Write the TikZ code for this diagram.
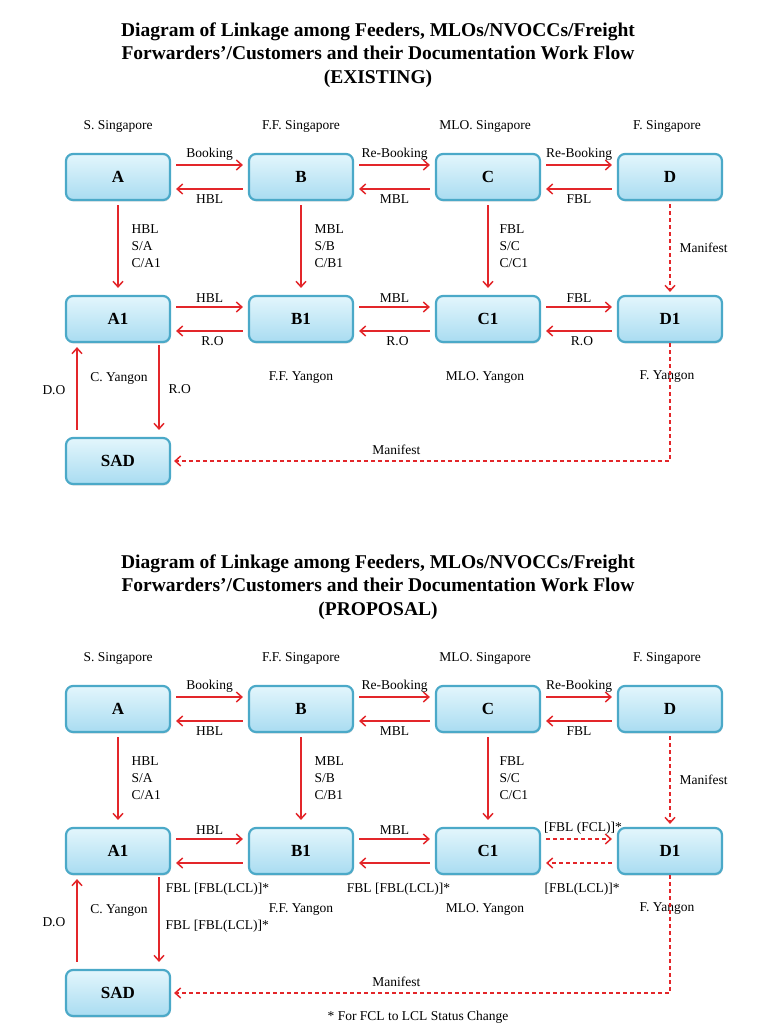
\documentclass[tikz,border=0pt]{standalone}
\usepackage{fontspec}
\setmainfont{Liberation Serif}
\usetikzlibrary{arrows.meta,shadows}
\definecolor{boxline}{HTML}{4BA9C8}
\definecolor{boxtop}{HTML}{E3F6FC}
\definecolor{boxbot}{HTML}{A9DCF1}
\definecolor{arr}{HTML}{E3262A}
\tikzset{
  box/.style={draw=boxline, line width=2.2pt, rounded corners=7pt,
    top color=boxtop, bottom color=boxbot,
    minimum width=104pt, minimum height=46pt,
    font=\fontsize{17}{20}\selectfont\bfseries,
    drop shadow={opacity=0.25, shadow xshift=0.6pt, shadow yshift=-1.6pt}},
  lbl/.style={font=\fontsize{13.5}{17}\selectfont, inner sep=0pt, align=left},
  flow/.style={draw=arr, line width=1.25pt, -{Straight Barb[length=5.5pt,width=10pt,line width=1.5pt]}},
  dflow/.style={flow, dash pattern=on 4pt off 3pt},
  titlestyle/.style={font=\fontsize{19.5}{23.5}\selectfont\bfseries, align=center, inner sep=0pt},
}
\begin{document}
\begin{tikzpicture}[x=1pt,y=-1pt]
\useasboundingbox (0,0) rectangle (768,1024);
\fill[white] (0,0) rectangle (768,1024);

% ================= EXISTING =================
\node[titlestyle] (t1) at (378,55) {Diagram of Linkage among Feeders, MLOs/NVOCCs/Freight\\Forwarders’/Customers and their Documentation Work Flow\\(EXISTING)};

\node[lbl] (ls1) at (118,126) {S. Singapore};
\node[lbl] (lf1) at (301,126) {F.F. Singapore};
\node[lbl] (lm1) at (485,126) {MLO. Singapore};
\node[lbl] (lfe1) at (667,126) {F. Singapore};

\node[box] (a) at (118,177) {A};
\node[box] (b) at (301,177) {B};
\node[box] (c) at (488,177) {C};
\node[box] (d) at (670,177) {D};
\node[box] (a1) at (118,319) {A1};
\node[box] (b1) at (301,319) {B1};
\node[box] (c1) at (488,319) {C1};
\node[box] (d1) at (670,319) {D1};
\node[box] (sad) at (118,461) {SAD};

\node[lbl] (ly1) at (119,378) {C. Yangon};
\node[lbl] (lfy1) at (301,378) {F.F. Yangon};
\node[lbl] (lmy1) at (485,377) {MLO. Yangon};
\node[lbl] (lfey1) at (667,377) {F. Yangon};

% row 1 horizontal
\draw[flow] ([xshift=5pt,yshift=12pt]a.east) -- ([xshift=-5pt,yshift=12pt]b.west) node[lbl,midway,above=4pt] {Booking};
\draw[flow] ([xshift=-5pt,yshift=-12pt]b.west) -- ([xshift=5pt,yshift=-12pt]a.east) node[lbl,midway,below=5pt] {HBL};
\draw[flow] ([xshift=5pt,yshift=12pt]b.east) -- ([xshift=-5pt,yshift=12pt]c.west) node[lbl,midway,above=4pt] {Re-Booking};
\draw[flow] ([xshift=-5pt,yshift=-12pt]c.west) -- ([xshift=5pt,yshift=-12pt]b.east) node[lbl,midway,below=5pt] {MBL};
\draw[flow] ([xshift=5pt,yshift=12pt]c.east) -- ([xshift=-5pt,yshift=12pt]d.west) node[lbl,midway,above=4pt] {Re-Booking};
\draw[flow] ([xshift=-5pt,yshift=-12pt]d.west) -- ([xshift=5pt,yshift=-12pt]c.east) node[lbl,midway,below=5pt] {FBL};

% verticals
\draw[flow] ([yshift=-4pt]a.south) -- ([yshift=7pt]a1.north) node[lbl,midway,anchor=west,xshift=13pt] {HBL\\S/A\\C/A1};
\draw[flow] ([yshift=-4pt]b.south) -- ([yshift=7pt]b1.north) node[lbl,midway,anchor=west,xshift=13pt] {MBL\\S/B\\C/B1};
\draw[flow] ([yshift=-4pt]c.south) -- ([yshift=7pt]c1.north) node[lbl,midway,anchor=west,xshift=11pt] {FBL\\S/C\\C/C1};
\draw[dflow] ([yshift=-3pt]d.south) -- ([yshift=3pt]d1.north) node[lbl,midway,anchor=west,xshift=9pt] {Manifest};

% row 2 horizontal
\draw[flow] ([xshift=5pt,yshift=12pt]a1.east) -- ([xshift=-5pt,yshift=12pt]b1.west) node[lbl,midway,above=4pt] {HBL};
\draw[flow] ([xshift=-5pt,yshift=-12pt]b1.west) -- ([xshift=5pt,yshift=-12pt]a1.east) node[lbl,midway,below=5pt,xshift=3pt] {R.O};
\draw[flow] ([xshift=5pt,yshift=12pt]b1.east) -- ([xshift=-5pt,yshift=12pt]c1.west) node[lbl,midway,above=4pt] {MBL};
\draw[flow] ([xshift=-5pt,yshift=-12pt]c1.west) -- ([xshift=5pt,yshift=-12pt]b1.east) node[lbl,midway,below=5pt,xshift=3pt] {R.O};
\draw[flow] ([xshift=5pt,yshift=12pt]c1.east) -- ([xshift=-5pt,yshift=12pt]d1.west) node[lbl,midway,above=4pt] {FBL};
\draw[flow] ([xshift=-5pt,yshift=-12pt]d1.west) -- ([xshift=5pt,yshift=-12pt]c1.east) node[lbl,midway,below=5pt,xshift=3pt] {R.O};

% A1 <-> SAD
\draw[flow] ([xshift=41pt,yshift=-2pt]a1.south) -- ([xshift=41pt,yshift=7pt]sad.north) node[lbl,midway,anchor=west,xshift=9pt,yshift=-2pt] {R.O};
\draw[flow] ([xshift=-41pt,yshift=7pt]sad.north) -- ([xshift=-41pt,yshift=-4pt]a1.south) node[lbl,midway,anchor=east,xshift=-11pt,yshift=-2pt] {D.O};

% manifest to SAD
\draw[dflow] (d1.south) |- ([xshift=3pt]sad.east) node[lbl,pos=0.776,above=6pt] {Manifest};

% ================= PROPOSAL =================
\node[titlestyle] (t2) at (378,587) {Diagram of Linkage among Feeders, MLOs/NVOCCs/Freight\\Forwarders’/Customers and their Documentation Work Flow\\(PROPOSAL)};

\node[lbl] (ls2) at (118,658) {S. Singapore};
\node[lbl] (lf2) at (301,658) {F.F. Singapore};
\node[lbl] (lm2) at (485,658) {MLO. Singapore};
\node[lbl] (lfe2) at (667,658) {F. Singapore};

\node[box] (pa) at (118,709) {A};
\node[box] (pb) at (301,709) {B};
\node[box] (pc) at (488,709) {C};
\node[box] (pd) at (670,709) {D};
\node[box] (pa1) at (118,851) {A1};
\node[box] (pb1) at (301,851) {B1};
\node[box] (pc1) at (488,851) {C1};
\node[box] (pd1) at (670,851) {D1};
\node[box] (psad) at (118,993) {SAD};

\node[lbl] (ly2) at (119,910) {C. Yangon};
\node[lbl] (lfy2) at (301,910) {F.F. Yangon};
\node[lbl] (lmy2) at (485,909) {MLO. Yangon};
\node[lbl] (lfey2) at (667,909) {F. Yangon};

% row 1 horizontal
\draw[flow] ([xshift=5pt,yshift=12pt]pa.east) -- ([xshift=-5pt,yshift=12pt]pb.west) node[lbl,midway,above=4pt] {Booking};
\draw[flow] ([xshift=-5pt,yshift=-12pt]pb.west) -- ([xshift=5pt,yshift=-12pt]pa.east) node[lbl,midway,below=5pt] {HBL};
\draw[flow] ([xshift=5pt,yshift=12pt]pb.east) -- ([xshift=-5pt,yshift=12pt]pc.west) node[lbl,midway,above=4pt] {Re-Booking};
\draw[flow] ([xshift=-5pt,yshift=-12pt]pc.west) -- ([xshift=5pt,yshift=-12pt]pb.east) node[lbl,midway,below=5pt] {MBL};
\draw[flow] ([xshift=5pt,yshift=12pt]pc.east) -- ([xshift=-5pt,yshift=12pt]pd.west) node[lbl,midway,above=4pt] {Re-Booking};
\draw[flow] ([xshift=-5pt,yshift=-12pt]pd.west) -- ([xshift=5pt,yshift=-12pt]pc.east) node[lbl,midway,below=5pt] {FBL};

% verticals
\draw[flow] ([yshift=-4pt]pa.south) -- ([yshift=7pt]pa1.north) node[lbl,midway,anchor=west,xshift=13pt] {HBL\\S/A\\C/A1};
\draw[flow] ([yshift=-4pt]pb.south) -- ([yshift=7pt]pb1.north) node[lbl,midway,anchor=west,xshift=13pt] {MBL\\S/B\\C/B1};
\draw[flow] ([yshift=-4pt]pc.south) -- ([yshift=7pt]pc1.north) node[lbl,midway,anchor=west,xshift=11pt] {FBL\\S/C\\C/C1};
\draw[dflow] ([yshift=-3pt]pd.south) -- ([yshift=3pt]pd1.north) node[lbl,midway,anchor=west,xshift=9pt] {Manifest};

% row 2 horizontal
\draw[flow] ([xshift=5pt,yshift=12pt]pa1.east) -- ([xshift=-5pt,yshift=12pt]pb1.west) node[lbl,midway,above=4pt] {HBL};
\draw[flow] ([xshift=-5pt,yshift=-12pt]pb1.west) -- ([xshift=5pt,yshift=-12pt]pa1.east) node[lbl,midway,below=19pt,xshift=8pt] {FBL [FBL(LCL)]*};
\draw[flow] ([xshift=5pt,yshift=12pt]pb1.east) -- ([xshift=-5pt,yshift=12pt]pc1.west) node[lbl,midway,above=4pt] {MBL};
\draw[flow] ([xshift=-5pt,yshift=-12pt]pc1.west) -- ([xshift=5pt,yshift=-12pt]pb1.east) node[lbl,midway,below=19pt,xshift=4pt] {FBL [FBL(LCL)]*};
\draw[dflow] ([xshift=5pt,yshift=12pt]pc1.east) -- ([xshift=-5pt,yshift=12pt]pd1.west) node[lbl,midway,above=4pt,xshift=4pt] {[FBL (FCL)]*};
\draw[dflow] ([xshift=-5pt,yshift=-12pt]pd1.west) -- ([xshift=5pt,yshift=-12pt]pc1.east) node[lbl,midway,below=19pt,xshift=3pt] {[FBL(LCL)]*};

% A1 <-> SAD
\draw[flow] ([xshift=41pt,yshift=-2pt]pa1.south) -- ([xshift=41pt,yshift=7pt]psad.north) node[lbl,midway,anchor=west,xshift=6pt,yshift=-7pt] {FBL [FBL(LCL)]*};
\draw[flow] ([xshift=-41pt,yshift=7pt]psad.north) -- ([xshift=-41pt,yshift=-4pt]pa1.south) node[lbl,midway,anchor=east,xshift=-11pt,yshift=-2pt] {D.O};

% manifest to SAD
\draw[dflow] (pd1.south) |- ([xshift=3pt]psad.east) node[lbl,pos=0.776,above=6pt] {Manifest};

% footnote
\node[lbl,anchor=base] (fn) at (418,1020) {* For FCL to LCL Status Change};
\end{tikzpicture}
\end{document}
